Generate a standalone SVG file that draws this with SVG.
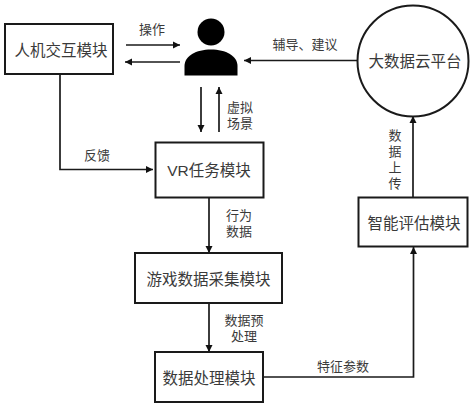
<svg xmlns="http://www.w3.org/2000/svg" width="474" height="408" viewBox="0 0 474 408">
<style>
text{font-family:"Liberation Sans","Noto Sans CJK SC",sans-serif;fill:#3a3a3a;text-anchor:middle}
.n{font-size:15.500px}
.l{font-size:13px}
.b{fill:#fff;stroke:#1a1a1a;stroke-width:2}
.c{fill:none;stroke:#1a1a1a;stroke-width:1.700}
</style>
<defs><marker id="a" markerUnits="userSpaceOnUse" markerWidth="8" markerHeight="8" refX="7" refY="4" orient="auto"><path d="M0 0.500L7 4L0 7.500z" fill="#111"/></marker></defs>
<rect width="474" height="408" fill="#fff"/>
<g id="connectors">
<path class="c" marker-end="url(#a)" d="M126 45H180"/>
<path class="c" marker-end="url(#a)" d="M180 62H125"/>
<path class="c" marker-end="url(#a)" d="M201 87V132"/>
<path class="c" marker-end="url(#a)" d="M219 132V87"/>
<path class="c" marker-end="url(#a)" d="M60 74V169.500H153"/>
<path class="c" marker-end="url(#a)" d="M357 60.500H244"/>
<path class="c" marker-end="url(#a)" d="M413 197V116"/>
<path class="c" marker-end="url(#a)" d="M209 197V253"/>
<path class="c" marker-end="url(#a)" d="M209 303V352"/>
<path class="c" marker-end="url(#a)" d="M263 377H413.500V247"/>
</g>
<g id="person"><circle cx="211" cy="32" r="13.500" fill="#000"/><path d="M184.500 75.500V66C184.500 56 196 49.500 211 49.500S237.500 56 237.500 66V75.500z" fill="#000"/></g>
<g id="hmi"><rect class="b" x="5" y="24" width="108" height="50"/><text class="n" x="61" y="56">人机交互模块</text></g>
<g id="vr"><rect class="b" x="155.500" y="142.500" width="108" height="55"/><text class="n" x="209" y="176">VR任务模块</text></g>
<g id="cloud"><circle class="b" cx="413" cy="61" r="55.500"/><text class="n" x="415" y="67">大数据云平台</text></g>
<g id="eval"><rect class="b" x="358.500" y="197.500" width="109" height="49"/><text class="n" x="414" y="229">智能评估模块</text></g>
<g id="collect"><rect class="b" x="135" y="253" width="147" height="50"/><text class="n" x="208.500" y="285">游戏数据采集模块</text></g>
<g id="process"><rect class="b" x="155" y="352" width="108" height="50"/><text class="n" x="209" y="384">数据处理模块</text></g>
<g id="labels">
<text class="l" x="152" y="34">操作</text>
<text class="l" x="97" y="160">反馈</text>
<text class="l" x="240" y="112"><tspan x="240">虚拟</tspan><tspan x="240" dy="15.500">场景</tspan></text>
<text class="l" x="305" y="49">辅导、建议</text>
<text class="l" x="395" y="140"><tspan x="395">数</tspan><tspan x="395" dy="16">据</tspan><tspan x="395" dy="16">上</tspan><tspan x="395" dy="16">传</tspan></text>
<text class="l" x="239" y="220"><tspan x="239">行为</tspan><tspan x="239" dy="16">数据</tspan></text>
<text class="l" x="244" y="325"><tspan x="244">数据预</tspan><tspan x="244" dy="15.500">处理</tspan></text>
<text class="l" x="343" y="371">特征参数</text>
</g>
</svg>
